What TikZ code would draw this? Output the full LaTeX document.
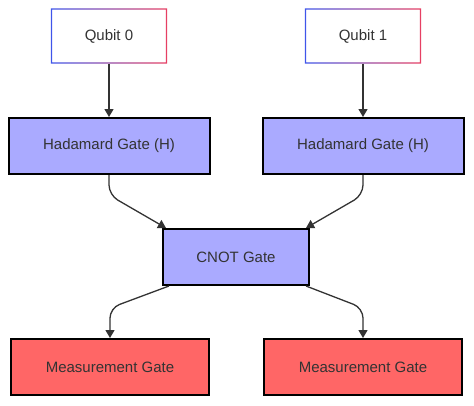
\documentclass[tikz,border=0pt]{standalone}
\usepackage{fontspec}
\setmainfont{Liberation Sans}
\usetikzlibrary{calc}
\usetikzlibrary{arrows.meta}
\definecolor{gatefill}{HTML}{AAAAFF}
\definecolor{measfill}{HTML}{FF6666}
\definecolor{inkgray}{HTML}{333333}
\definecolor{qblue}{HTML}{3F55EA}
\definecolor{qred}{HTML}{E83F62}

\begin{document}
\begin{tikzpicture}[x=1pt,y=-1pt,
		boxtext/.style={text=inkgray, inner sep=0pt, minimum height=56pt, font=\fontsize{15}{18}\selectfont},
		qubit/.style={boxtext, fill=white, minimum width=116pt, minimum height=55pt},
		hgate/.style={boxtext, draw=black, line width=2pt, fill=gatefill, minimum width=201pt},
		mgate/.style={boxtext, draw=black, line width=2pt, fill=measfill, minimum width=198pt},
		flow/.style={draw=inkgray, line width=1.3pt, rounded corners=10pt, -{Triangle[length=8pt,width=9pt]}}]
				% fix the page size
				\useasboundingbox (0,0) rectangle (474,405);
				
				% input qubits
				\node[qubit] (q0) at (109,36) {Qubit 0};
				\node[qubit] (q1) at (363,36) {Qubit 1};
				% blue to red borders round the inputs
				\foreach \q in {q0,q1}
				\shade[left color=qblue, right color=qred, even odd rule]
					(\q.south west) rectangle (\q.north east)
					([shift={(1.3,-1.3)}]\q.south west) rectangle ([shift={(-1.3,1.3)}]\q.north east);
				
				% gates
				\node[hgate] (h0) at (109,146) {Hadamard Gate (H)};
				\node[hgate] (h1) at (363,146) {Hadamard Gate (H)};
				\node[hgate, minimum width=146pt] (cnot) at (236,257) {CNOT Gate};
				\node[mgate] (m0) at (110,367) {Measurement Gate};
				\node[mgate] (m1) at (363,367) {Measurement Gate};
				
				% straight arrows into the Hadamard gates
				\draw[flow] (q0.south) -- (h0.north);
				\draw[flow] (q1.south) -- (h1.north);
				
				% bent arrows into and out of CNOT
				\draw[flow] (h0.south) -- ++(0,20) -- ([xshift=4pt]cnot.north west);
				\draw[flow] (h1.south) -- ++(0,20) -- ([xshift=-4pt]cnot.north east);
				\draw[flow] ([xshift=7pt]cnot.south west) -- ($(m0.north)+(0,-30)$) -- (m0.north);
				\draw[flow] ([xshift=-4pt]cnot.south east) -- ($(m1.north)+(0,-30)$) -- (m1.north);
				
				\end{tikzpicture}
\end{document}
